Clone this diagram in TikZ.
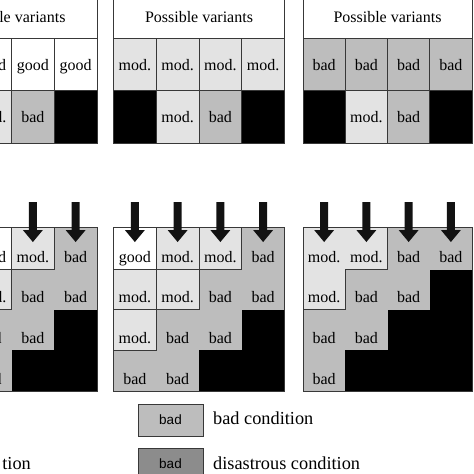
\documentclass[tikz,border=0pt]{standalone}
\usepackage{fontspec}
\setmainfont{Liberation Serif}
\newfontfamily\legsans{Liberation Sans}
\definecolor{modgray}{gray}{0.89}
\definecolor{badgray}{gray}{0.74}
\definecolor{disgray}{gray}{0.55}
\definecolor{linec}{gray}{0.22}
\definecolor{arrowc}{gray}{0.07}
\newcommand{\txtgood}{good}
\newcommand{\txtmod}{mod.}
\newcommand{\txtbad}{bad}
\newcommand{\txtblk}{}
\def\blkid{blk}

% top panel: #1 id, #2 x0, #3 column width, #4 row-1 cells, #5 row-2 cells
\newcommand{\toppanel}[5]{%
  \path[fill=white,cellln] (#2,-4) rectangle ({#2+4*#3},38);
  \node[htext] (#1-h) at ({#2+2*#3},22) {Possible variants};
  \foreach \c/\k in {#4}{%
    \path[\k,cellln] ({#2+\c*#3},38) rectangle ({#2+(\c+1)*#3},90);
    \edef\kk{\k}\ifx\kk\blkid\else
    \node[ctext] (#1-0-\c) at ({#2+(\c+0.5)*#3},70.5) {\csname txt\k\endcsname};\fi}
  \foreach \c/\k in {#5}{%
    \path[\k,cellln] ({#2+\c*#3},90) rectangle ({#2+(\c+1)*#3},143);
    \edef\kk{\k}\ifx\kk\blkid\else
    \node[ctext] (#1-1-\c) at ({#2+(\c+0.5)*#3},122.5) {\csname txt\k\endcsname};\fi}
  \draw[outerln] (#2,-4) rectangle ({#2+4*#3},143);
}

% bottom panel: #1 id, #2 x0, #3 column width, #4 border suffix, #5 rows
\newcommand{\botpanel}[5]{%
  \foreach \r/\yt/\yb/\cells in {#5}{%
    \foreach \c/\k in \cells{%
      \path[\k] ({#2+\c*#3},\yt) rectangle ({#2+(\c+1)*#3},\yb);}}
  \foreach \r/\yt/\yb/\cells in {#5}{%
    \foreach \c/\k in \cells{%
      \path[\k#4] ({#2+\c*#3},\yt) rectangle ({#2+(\c+1)*#3},\yb);
      \edef\kk{\k}\ifx\kk\blkid\else
      \node[ctext] (#1-\r-\c) at ({#2+(\c+0.5)*#3},{\yb-7}) {\csname txt\k\endcsname};\fi}}
  \draw[outerln] (#2,227) rectangle ({#2+4*#3},391);
}

\newcommand{\dnarrow}[1]{%
  \fill[arrowc] ({#1-4},202) -- ({#1+4},202) -- ({#1+4},230) -- ({#1+10},230)
    -- (#1,242) -- ({#1-10},230) -- ({#1-4},230) -- cycle;}

\begin{document}
\begin{tikzpicture}[x=1pt,y=-1pt,
  good/.style={fill=white},
  mod/.style={fill=modgray},
  bad/.style={fill=badgray},
  blk/.style={fill=black},
  cellln/.style={draw=linec,line width=0.8pt},
  goodb/.style={cellln}, modb/.style={cellln}, badb/.style={}, blkb/.style={},
  goodn/.style={}, modn/.style={}, badn/.style={}, blkn/.style={},
  outerln/.style={draw=linec,line width=0.9pt},
  ctext/.style={font=\fontsize{16}{18}\selectfont, anchor=base, inner sep=0pt},
  htext/.style={font=\fontsize{16}{18}\selectfont, anchor=base, inner sep=0pt},
  legbox/.style={draw=linec, line width=0.8pt, minimum width=65pt, minimum height=32pt,
    inner sep=0pt, font=\legsans\fontsize{13.5}{15}\selectfont},
  legtext/.style={font=\fontsize{18.3}{20}\selectfont, inner sep=0pt}]
\useasboundingbox (0,0) rectangle (474,474);
\clip (0,0) rectangle (474,474);

% ---------- top panels ----------
\toppanel{tl}{-74}{42.75}{1/good,2/good,3/good}{1/mod,2/bad,3/blk}
\toppanel{tm}{113.5}{42.75}{0/mod,1/mod,2/mod,3/mod}{0/blk,1/mod,2/bad,3/blk}
\toppanel{tr}{303}{42.25}{0/bad,1/bad,2/bad,3/bad}{0/blk,1/mod,2/bad,3/blk}

% ---------- bottom panels ----------
\botpanel{bl}{-74}{42.75}{b}{%
  0/227/269.5/{1/good,2/mod,3/bad},
  1/269.5/309.5/{1/mod,2/bad,3/bad},
  2/309.5/350/{1/bad,2/bad,3/blk},
  3/350/391/{1/bad,2/blk,3/blk}}
\botpanel{bm}{113.5}{42.75}{b}{%
  0/227/269.5/{0/good,1/mod,2/mod,3/bad},
  1/269.5/309.5/{0/mod,1/mod,2/bad,3/bad},
  2/309.5/350/{0/mod,1/bad,2/bad,3/blk},
  3/350/391/{0/bad,1/bad,2/blk,3/blk}}
\botpanel{br}{303}{42.25}{n}{%
  0/227/269.5/{0/mod,1/mod,2/bad,3/bad},
  1/269.5/309.5/{0/mod,1/bad,2/bad,3/blk},
  2/309.5/350/{0/bad,1/bad,2/blk,3/blk},
  3/350/391/{0/bad,1/blk,2/blk,3/blk}}
\draw[cellln] (303,227) -- (387.5,227) -- (387.5,269.5) -- (345.25,269.5)
  -- (345.25,309.5) -- (303,309.5) -- cycle;

% ---------- arrows ----------
\foreach \x in {32.875,75.625,134.875,177.625,220.375,263.125,324.125,366.375,408.625,450.875}{%
  \dnarrow{\x}}

% ---------- legend ----------
\node[legbox,fill=badgray] (lg1) at (170.5,420) {bad};
\node[legbox,fill=disgray] (lg2) at (170.5,464) {bad};
\node[legtext,anchor=base west] (lt1) at (213,424) {bad condition};
\node[legtext,anchor=base west] (lt2) at (213,469) {disastrous condition};
\node[legtext,anchor=base east] (lt0) at (31,469) {tion};
\end{tikzpicture}
\end{document}
